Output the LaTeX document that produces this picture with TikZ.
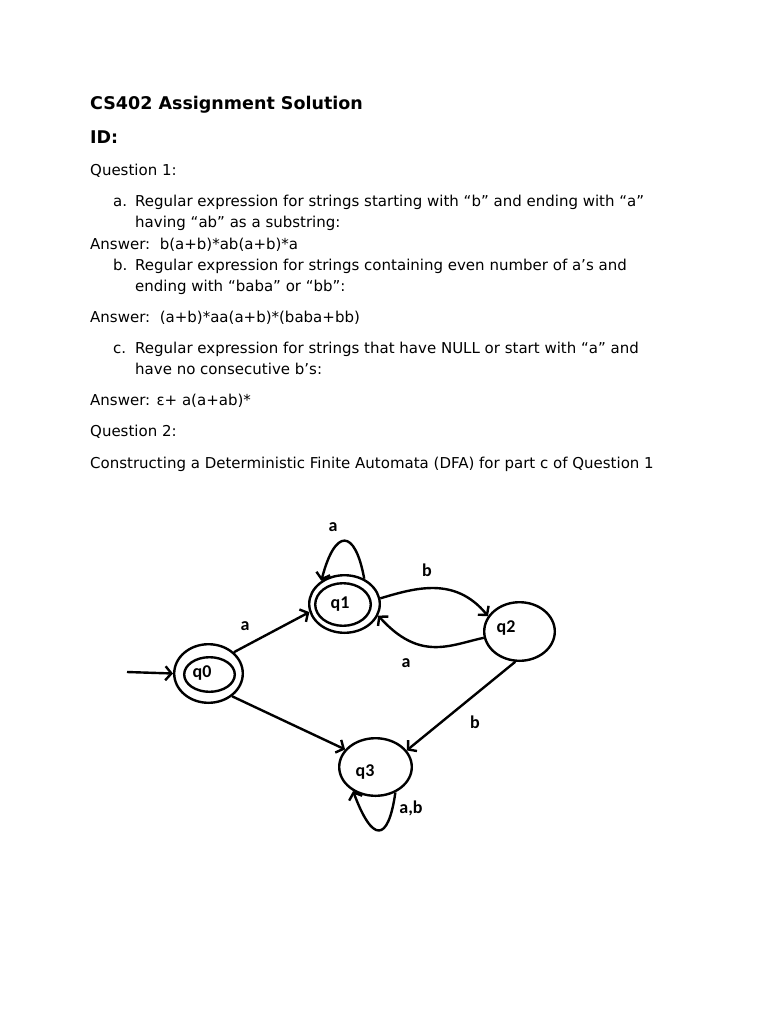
\documentclass[tikz,border=0pt]{standalone}
\usepackage{fontspec}
\setmainfont{DejaVu Sans}
\newfontfamily\labfont{Carlito}
\usetikzlibrary{shapes.geometric,arrows.meta}
\begin{document}
\begin{tikzpicture}[x=1pt,y=-1pt,
  txt/.style={anchor=base west,inner sep=0pt,font=\fontsize{15}{18}\selectfont},
  ttl/.style={anchor=base west,inner sep=0pt,font=\fontsize{17.5}{21}\selectfont\bfseries},
  state/.style={ellipse,draw,line width=2.4pt,inner sep=0pt},
  lab/.style={font=\fontsize{18}{20}\selectfont\labfont\bfseries,inner sep=0pt},
  edge/.style={line width=2.4pt,-{Straight Barb[length=6pt,width=14pt]}},
]
\useasboundingbox[fill=white] (0,0) rectangle (768,1024);
% text
\node[ttl] (t1) at (90,110) {CS402 Assignment Solution};
\node[ttl] (t2) at (90,144) {ID:};
\node[txt] (l1) at (90,176) {Question 1:};
\node[txt] (l2a) at (113,207) {a.};
\node[txt] (l2) at (135,207) {Regular expression for strings starting with “b” and ending with “a”};
\node[txt] (l3) at (135,228) {having “ab” as a substring:};
\node[txt] (l4) at (90,249) {Answer:\ \ b(a+b)*ab(a+b)*a};
\node[txt] (l5a) at (113,270) {b.};
\node[txt] (l5) at (135,270) {Regular expression for strings containing even number of a’s and};
\node[txt] (l6) at (135,291) {ending with “baba” or “bb”:};
\node[txt] (l7) at (90,322) {Answer:\ \ (a+b)*aa(a+b)*(baba+bb)};
\node[txt] (l8a) at (113,353) {c.};
\node[txt] (l8) at (135,353) {Regular expression for strings that have NULL or start with “a” and};
\node[txt] (l9) at (135,374) {have no consecutive b’s:};
\node[txt] (l10) at (90,405) {Answer: ε+ a(a+ab)*};
\node[txt] (l11) at (90,436) {Question 2:};
\node[txt] (l12) at (90,468) {Constructing a Deterministic Finite Automata (DFA) for part c of Question 1};
% states
\node[state,minimum width=68.6pt,minimum height=58.6pt] (q0) at (208.5,673.5) {};
\node[state,minimum width=50.6pt,minimum height=34.6pt] (q0i) at (209.5,674.5) {};
\node[state,minimum width=70.6pt,minimum height=57.6pt] (q1) at (344.5,604) {};
\node[state,minimum width=55.6pt,minimum height=42.6pt] (q1i) at (343,604.5) {};
\node[state,minimum width=70.6pt,minimum height=58.6pt] (q2) at (519.5,631.5) {};
\node[state,minimum width=72.6pt,minimum height=57.6pt] (q3) at (375.5,767) {};
\node[lab] (q0t) at (202,673) {q0};
\node[lab] (q1t) at (340,604) {q1};
\node[lab] (q2t) at (506,628) {q2};
\node[lab] (q3t) at (365,772) {q3};
% edges
\coordinate (start) at (127,672);
\draw[edge] (start) -- (q0.180);
\draw[edge] (q0.40) -- (q1.193);
\draw[edge] (q0.-44) -- (q3.150);
\draw[edge] (q2.-98) -- (q3.28);
\draw[edge] (q1.52) .. controls (355,528) and (335,528) .. (q1.135);
\draw[edge] (q1.9) .. controls (415,588) and (455,576) .. (q2.154);
\draw[edge] (q2.190) .. controls (450,645) and (420,662) .. (q1.-19);
\draw[edge] (q3.-52) .. controls (388,844) and (372,842) .. (q3.-133);
% labels
\node[lab] (la1) at (333,527) {a};
\node[lab] (la2) at (245,626) {a};
\node[lab] (lb1) at (427,570) {b};
\node[lab] (la3) at (406,663) {a};
\node[lab] (lb2) at (475,722) {b};
\node[lab] (lab3) at (411,808) {a,b};
\end{tikzpicture}
\end{document}
